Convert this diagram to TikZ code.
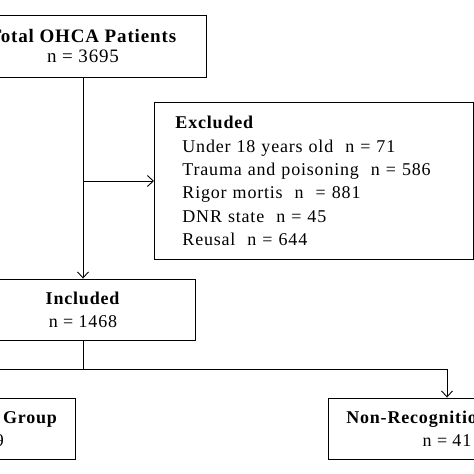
\documentclass[tikz,border=0pt]{standalone}
\usepackage{fontspec}
\setmainfont[LetterSpace=4.5]{Liberation Serif}
\usetikzlibrary{arrows.meta}

\newcommand{\mainx}{83}
\newcommand{\splity}{181}
\newcommand{\forky}{369}
\newcommand{\boxfont}{\fontsize{18}{23.3}\selectfont}

\tikzset{
  box/.style={draw, line width=0.9pt, rectangle, inner sep=0pt, align=center, font=\boxfont},
  flow/.style={-{Straight Barb[length=6pt, width=11pt]}, line width=0.9pt},
  link/.style={line width=0.9pt},
}

\begin{document}
\begin{tikzpicture}[x=1pt, y=-1pt]
    \useasboundingbox (0,0) rectangle (474,474);
    \clip (0,0) rectangle (474,474);

    % boxes
    \node[box, minimum width=246pt, minimum height=62pt, font=\fontsize{19}{20}\selectfont] (total) at (\mainx,46) {\textbf{Total OHCA Patients}\\n = 3695};
    \node[box, minimum width=319pt, minimum height=157pt, text width=277pt, align=left, anchor=north west] (excl) at (154,102)
        {\textbf{Excluded}\\
         \hspace*{7pt}Under 18 years old~ n = 71\\
         \hspace*{7pt}Trauma and poisoning~ n = 586\\
         \hspace*{7pt}Rigor mortis~ n ~= 881\\
         \hspace*{7pt}DNR state~ n = 45\\
         \hspace*{7pt}Reusal~ n = 644\\[3pt]};
    \node[box, minimum width=224pt, minimum height=61pt] (incl) at (\mainx,309.5) {\textbf{Included}\\n = 1468};
    \node[box, minimum width=238pt, minimum height=61pt] (recog) at (-44,428.5) {};
    \node[box, minimum width=238pt, minimum height=61pt] (nonrec) at (447,428.5) {\textbf{Non-Recognition Group}\\n = 41};

    % visible part of the left box
    \node[font=\boxfont, anchor=base east, inner sep=0pt] (recogname) at (58,423) {\textbf{Group}};
    \node[font=\boxfont, anchor=base east, inner sep=0pt] (recogn) at (4,446) {9};

    % connectors
    \coordinate (split) at (\mainx,\splity);
    \coordinate (fork) at (\mainx,\forky);
    \draw[flow] (total.south) -- (incl.north);
    \draw[flow] (split) -- (excl.west |- split);
    \draw[link] (incl.south) -- (fork);
    \draw[flow] (fork) -| (nonrec.north);
    \draw[flow] (fork) -| (recog.north);
\end{tikzpicture}
\end{document}
